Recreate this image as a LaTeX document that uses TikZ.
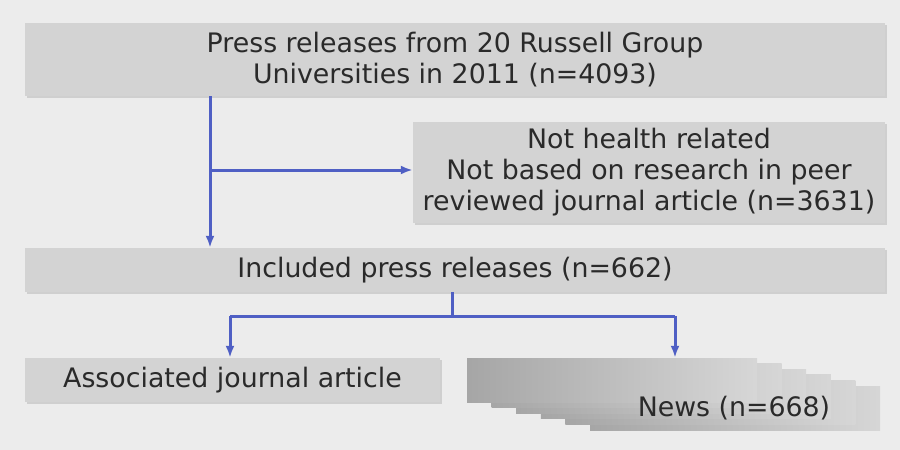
\documentclass[tikz,border=0pt]{standalone}
\usepackage{fontspec}
\setmainfont{DejaVu Sans}
\usetikzlibrary{arrows.meta,shadows}
\definecolor{bgc}{HTML}{ECECEC}
\definecolor{boxc}{HTML}{D3D3D3}
\definecolor{txtc}{HTML}{2A2A2A}
\definecolor{arrc}{HTML}{4F5FC4}
\tikzset{
  flowbox/.style={draw=none, fill=boxc, text=txtc, align=center, inner sep=0pt,
    font=\fontsize{26.8}{31}\selectfont,
    drop shadow={shadow xshift=1.5pt, shadow yshift=-2pt, fill=black, opacity=0.12}},
  flowarrow/.style={draw=arrc, line width=3pt, -{Latex[length=12pt,width=9pt]}},
  flowline/.style={draw=arrc, line width=3pt},
  newslayer/.style={draw=none, left color=gray!70, right color=gray!32}
}
\begin{document}
\begin{tikzpicture}[x=1pt,y=-1pt]
\fill[bgc] (0,0) rectangle (900,450);
\useasboundingbox (0,0) rectangle (900,450);
% top box
\node[flowbox, minimum width=860pt, minimum height=73pt] (top) at (455,59.5)
  {Press releases from 20 Russell Group\\Universities in 2011 (n=4093)};
% excluded box
\node[flowbox, minimum width=472pt, minimum height=101pt] (excl) at (649,172.5)
  {Not health related\\Not based on research in peer\\reviewed journal article (n=3631)};
% included box
\node[flowbox, minimum width=860pt, minimum height=44pt] (incl) at (455,270)
  {Included press releases (n=662)};
% associated box
\node[flowbox, minimum width=415pt, minimum height=44pt] (assoc) at (232.5,380)
  {Associated journal article};
% news stack
\foreach \i in {5,4,3,2,1} {
  \fill[newslayer] ({467+24.6*\i},{358+5.6*\i}) rectangle ({757+24.6*\i},{402+5.6*\i});
}
\node[newslayer, minimum width=290pt, minimum height=44pt, inner sep=0pt] (news) at (612,380) {};
\node[text=txtc, font=\fontsize{26.8}{31}\selectfont, inner sep=0pt] (newslabel) at (734,408) {News (n=668)};
% connectors
\coordinate (a1) at (210,170);
\coordinate (b1) at (452,316);
\coordinate (b2) at (230,316);
\coordinate (b3) at (675,316);
\draw[flowarrow] (top.south -| a1) -- (incl.north -| a1);
\draw[flowarrow] (a1) -- (excl.west |- a1);
\draw[flowline] (incl.south -| b1) -- (b1);
\draw[flowline] (b2) -- (b3);
\draw[flowarrow] (b2) -- (assoc.north -| b2);
\draw[flowarrow] (b3) -- (news.north -| b3);
\end{tikzpicture}
\end{document}
